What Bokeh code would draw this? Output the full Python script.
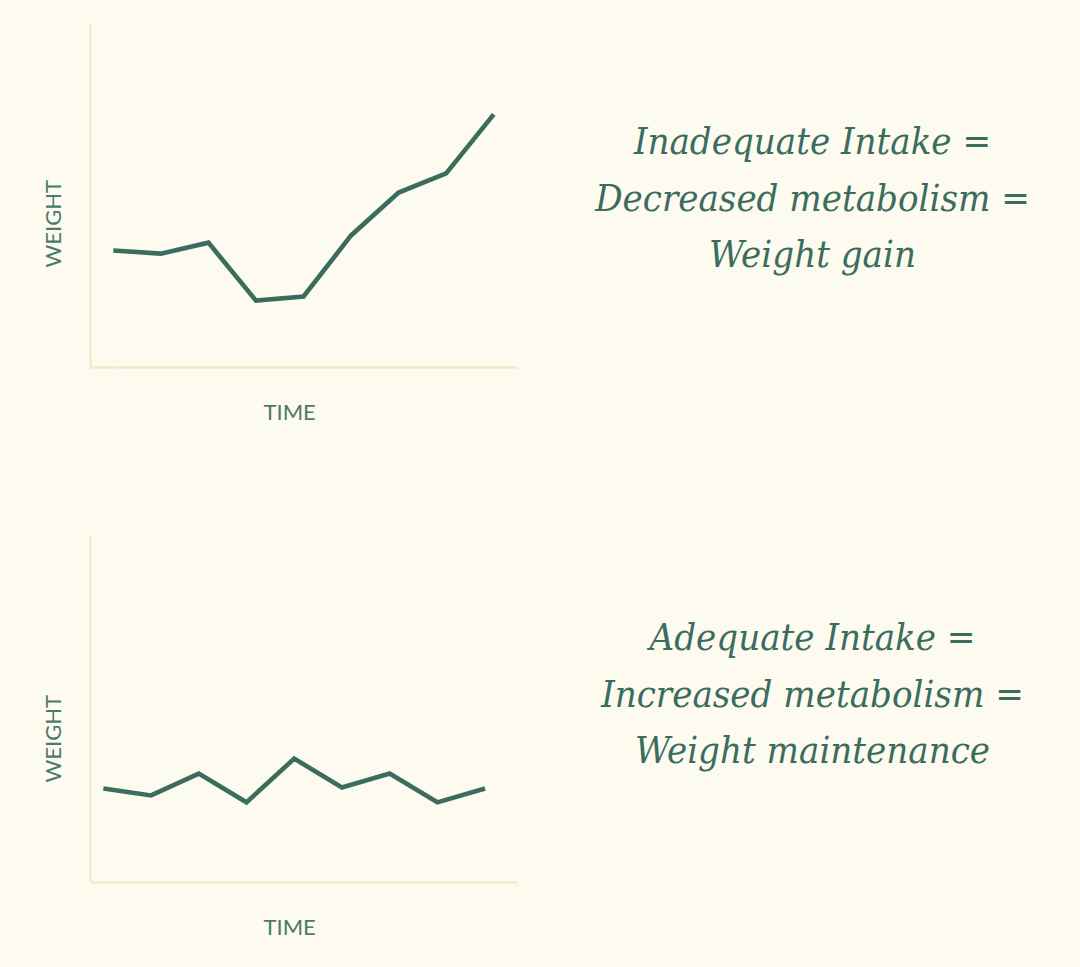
from bokeh.plotting import figure
from bokeh.layouts import column, row
from bokeh.models import Range1d, FixedTicker, Title, CustomJSTickFormatter
from bokeh.core.properties import value
from bokeh.embed import file_html
from bokeh.resources import INLINE

# ---- data ----
time_top = [0, 1, 2, 3, 4, 5, 6, 7, 8]
weight_top = [34.1, 33.2, 36.4, 19.5, 20.7, 38.5, 51.0, 56.6, 73.8]
time_bottom = [0, 1, 2, 3, 4, 5, 6, 7, 8]
weight_bottom = [27.1, 25.1, 31.4, 23.1, 35.7, 27.4, 31.4, 23.1, 27.1]
text_top = ["Inadequate Intake =", "Decreased metabolism =", "Weight gain"]
text_bottom = ["Adequate Intake =", "Increased metabolism =", "Weight maintenance"]
x_label = "TIME"
y_label = "WEIGHT"

BG = "#FDFAEF"
GREEN = "#3B6D5E"
LABEL = "#4A7A6B"
AXIS = "#F4EACB"


def line_chart(xs, ys, xr, height, b_top, b_bottom):
    p = figure(width=540, height=height, output_backend="svg", toolbar_location=None,
               x_range=Range1d(*xr), y_range=Range1d(0, 100),
               min_border_left=90, min_border_right=23,
               min_border_top=b_top, min_border_bottom=b_bottom)
    p.background_fill_color = BG
    p.border_fill_color = BG
    p.outline_line_color = None
    p.grid.visible = False
    for ax in (p.xaxis[0], p.yaxis[0]):
        ax.ticker = FixedTicker(ticks=[])
        ax.major_tick_line_color = None
        ax.minor_tick_line_color = None
        ax.major_label_text_font_size = "0px"
        ax.major_label_standoff = 0
        ax.major_tick_out = 0
        ax.major_tick_in = 0
        ax.axis_line_color = AXIS
        ax.axis_line_width = 2.5
    # one background-coloured tick reserves the gap between the x axis and TIME
    xa = p.xaxis[0]
    xa.ticker = FixedTicker(ticks=[xs[0]])
    xa.major_tick_line_color = BG
    xa.major_tick_line_width = 1
    xa.major_tick_out = 29
    xa.formatter = CustomJSTickFormatter(code="return ''")
    p.line(xs, ys, line_color=GREEN, line_width=4.6, line_join="miter")
    common = dict(text_font="Lato", text_font_size="22px", text_font_style="normal",
                  text_color=LABEL, align="left")
    p.add_layout(Title(text=x_label, offset=173, standoff=2, vertical_align="top",
                       **common), "below")
    p.add_layout(Title(text=y_label, offset=100, standoff=50, vertical_align="bottom",
                       **common), "left")
    return p


def text_panel(lines, baselines, height, b_top, b_bottom):
    # y range in figure pixel rows (top = 0) so the frame aligns with the chart frame
    t = figure(width=532, height=height, output_backend="svg", toolbar_location=None,
               x_range=Range1d(0, 532), y_range=Range1d(height - b_bottom, b_top),
               min_border_left=0, min_border_right=0,
               min_border_top=b_top, min_border_bottom=b_bottom)
    t.axis.visible = False
    t.grid.visible = False
    t.outline_line_color = None
    t.background_fill_color = BG
    t.border_fill_color = BG
    t.text(x=[272] * len(lines), y=baselines, text=lines,
           text_font=value("DejaVu Serif Condensed"), text_font_style="italic",
           text_font_size="38px", text_color=GREEN,
           text_align="center", text_baseline="alphabetic")
    return t


p1 = line_chart(time_top, weight_top, (-0.48, 8.5), 476, 24, 109)
t1 = text_panel(text_top, [140, 197, 253], 476, 24, 109)
p2 = line_chart(time_bottom, weight_bottom, (-0.27, 8.68), 483, 59, 77)
t2 = text_panel(text_bottom, [160, 217, 273], 483, 59, 77)

layout = column(row(p1, t1), row(p2, t2))
layout.styles = {"background-color": BG}

html = file_html(layout, INLINE)
html = html.replace("<head>", "<head><style>html,body{background:%s;}</style>" % BG, 1)
open("out.html", "w").write(html)
